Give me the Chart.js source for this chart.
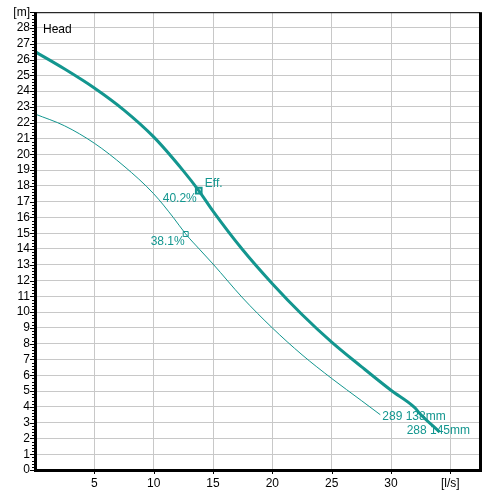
<!DOCTYPE html>
<html>
<head>
<meta charset="utf-8">
<script src="https://cdn.jsdelivr.net/npm/chart.js@4"></script>
<style>
  html, body { margin: 0; padding: 0; background: #fff; }
  #wrap { width: 500px; height: 500px; }
</style>
</head>
<body>
<div id="wrap"><canvas id="pumpChart" width="500" height="500"></canvas></div>
<script>
// curve 288 145mm (thick)
const flowBig = [0, 2.5, 5, 7.5, 10, 12.5, 13.8, 15, 17.5, 20, 22.5, 25, 27.5, 30, 32, 32.4, 34.1];
const headBig = [26.5, 25.4, 24.2, 22.8, 21.1, 18.95, 17.7, 16.4, 13.95, 11.8, 9.85, 8.1, 6.55, 5.05, 3.95, 3.6, 2.4];
// curve 289 138mm (thin)
const flowSmall = [0, 2.5, 5, 7.5, 10, 11.65, 12.7, 13.9, 15, 17.5, 20, 22.5, 25, 27.5, 29.1];
const headSmall = [22.55, 21.8, 20.7, 19.25, 17.5, 16.0, 14.95, 13.95, 13.05, 10.9, 9.0, 7.3, 5.8, 4.4, 3.5];
// best efficiency points
const effFlow = [13.8, 12.7];
const effHead = [17.7, 14.95];
const effLabels = ['40.2%', '38.1%'];
const curveNames = ['288 145mm', '289 138mm'];
const xTickValues = [0, 5, 10, 15, 20, 25, 30, 35];

const teal = '#13968f';

function pairs(xs, ys) {
  return xs.map((x, i) => ({ x: x, y: ys[i] }));
}

const decorations = {
  id: 'decorations',
  afterDraw(chart) {
    const ctx = chart.ctx;
    const a = chart.chartArea;
    const xs = chart.scales.x, ys = chart.scales.y;
    ctx.save();

    // minor / major ticks
    ctx.strokeStyle = '#000';
    ctx.lineWidth = 1;
    ctx.beginPath();
    for (let i = 0; i <= 145; i++) {
      const v = i / 5;
      const py = Math.round(ys.getPixelForValue(v)) + 0.5;
      const len = (i % 5 === 0) ? 5 : 3;
      ctx.moveTo(a.left - len, py);
      ctx.lineTo(a.left, py);
    }
    for (let v = 1; v <= 37; v++) {
      const px = Math.round(xs.getPixelForValue(v)) + 0.5;
      const len = (v % 5 === 0) ? 4 : 2;
      ctx.moveTo(px, a.bottom);
      ctx.lineTo(px, a.bottom + len);
    }
    ctx.stroke();

    // frame
    ctx.fillStyle = '#000';
    ctx.fillRect(a.left, a.top, a.right - a.left, 1);
    ctx.fillRect(a.left - 1, a.top, 3, a.bottom - a.top + 1);
    ctx.fillRect(a.left - 1, a.bottom - 1, a.right - a.left + 2, 3);
    ctx.fillRect(a.right - 1, a.top, 3, a.bottom - a.top + 2);

    // texts
    ctx.font = '12px "Liberation Sans", Arial, sans-serif';
    ctx.textBaseline = 'middle';
    ctx.fillStyle = '#000';
    ctx.textAlign = 'left';
    ctx.fillText('Head', a.left + 8, a.top + 17);

    ctx.fillStyle = teal;
    const e0x = xs.getPixelForValue(effFlow[0]), e0y = ys.getPixelForValue(effHead[0]);
    ctx.fillText('Eff.', e0x + 6, e0y - 7);
    ctx.textAlign = 'right';
    ctx.fillText(effLabels[0], e0x - 2, e0y + 8);
    const e1x = xs.getPixelForValue(effFlow[1]), e1y = ys.getPixelForValue(effHead[1]);
    ctx.fillText(effLabels[1], e1x - 1, e1y + 8);

    ctx.textAlign = 'left';
    const sEndX = xs.getPixelForValue(flowSmall[flowSmall.length - 1]);
    const sEndY = ys.getPixelForValue(headSmall[headSmall.length - 1]);
    ctx.fillText(curveNames[1], sEndX + 2, sEndY + 2);
    const bEndX = xs.getPixelForValue(flowBig[flowBig.length - 1]);
    const bEndY = ys.getPixelForValue(headBig[headBig.length - 1]);
    ctx.fillText(curveNames[0], bEndX - 33, bEndY - 1);

    ctx.restore();
  }
};

new Chart(document.getElementById('pumpChart'), {
  type: 'scatter',
  data: {
    datasets: [
      {
        label: curveNames[0],
        data: pairs(flowBig, headBig),
        showLine: true,
        borderColor: teal,
        borderWidth: 3,
        pointRadius: 0,
        cubicInterpolationMode: 'monotone'
      },
      {
        label: curveNames[1],
        data: pairs(flowSmall, headSmall),
        showLine: true,
        borderColor: teal,
        borderWidth: 1,
        pointRadius: 0,
        cubicInterpolationMode: 'monotone'
      },
      {
        label: 'Eff.',
        data: [{ x: effFlow[0], y: effHead[0] }],
        pointStyle: 'rect',
        pointRadius: 4,
        borderWidth: 2,
        borderColor: teal,
        backgroundColor: '#fff'
      },
      {
        label: 'Eff. 2',
        data: [{ x: effFlow[1], y: effHead[1] }],
        pointStyle: 'rect',
        pointRadius: 3.5,
        borderWidth: 1,
        borderColor: teal,
        backgroundColor: '#fff'
      }
    ]
  },
  options: {
    responsive: false,
    animation: false,
    devicePixelRatio: 1,
    layout: { padding: { top: 10, right: 20, left: 0, bottom: 0 } },
    plugins: {
      legend: { display: false },
      tooltip: { enabled: false }
    },
    scales: {
      x: {
        type: 'linear',
        min: 0,
        max: 37.5,
        afterBuildTicks(scale) {
          scale.ticks = xTickValues.map(v => ({ value: v }));
        },
        afterFit(scale) { scale.height = 30; },
        border: { display: false },
        grid: { color: '#c8c8c8', drawTicks: false },
        ticks: {
          padding: 6,
          maxRotation: 0,
          autoSkip: false,
          color: '#000',
          font: { family: '"Liberation Sans", Arial, sans-serif', size: 12 },
          callback: v => v === 0 ? '' : (v === 35 ? '[l/s]' : v)
        }
      },
      y: {
        min: 0,
        max: 29,
        afterFit(scale) { scale.width = 35; },
        border: { display: false },
        grid: { color: '#c8c8c8', drawTicks: false },
        ticks: {
          stepSize: 1,
          padding: 5,
          autoSkip: false,
          color: '#000',
          font: { family: '"Liberation Sans", Arial, sans-serif', size: 12 },
          callback: v => v === 29 ? '[m]' : v
        }
      }
    }
  },
  plugins: [decorations]
});
</script>
</body>
</html>
